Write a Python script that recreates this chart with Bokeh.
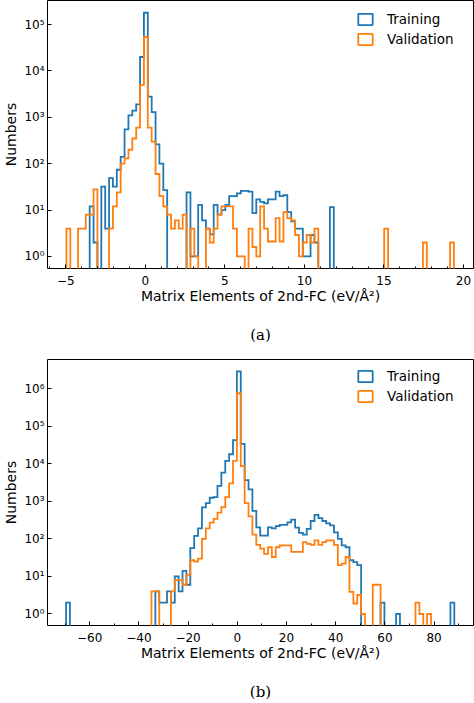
import numpy as np
from bokeh.plotting import figure
from bokeh.layouts import column
from bokeh.models import FixedTicker, Legend, LegendItem, LinearAxis, Range1d
from bokeh.embed import file_html
from bokeh.resources import INLINE

# ---- histogram data: 100 equal-width bins over each range ----
bins_a = (-4.96, 19.40)
train_a = [
    0, 0, 0, 0, 0, 0, 12, 2, 0, 32,
    4, 49, 32, 74, 140, 550, 1100, 1400, 1900, 20000,
    180000, 2800, 1300, 260, 100, 27, 0, 0, 0, 0,
    0, 24, 1, 1, 13, 6, 4, 3, 13, 8,
    10, 13, 20, 20, 23, 26, 26, 25, 8.6, 17,
    15, 14, 17, 17, 25, 20, 21, 9, 5.7, 4,
    4, 1, 1, 2.9, 2, 0, 0, 0, 11.6, 0,
    0, 0, 0, 0, 0, 0, 0, 0, 0, 0,
    0, 0, 0, 0, 0, 0, 0, 0, 0, 0,
    0, 0, 0, 0, 0, 0, 0, 0, 0, 0,
]
valid_a = [
    4, 0, 0, 4, 4, 8, 8, 28, 0, 0,
    0, 4, 12, 24, 100, 130, 200, 350, 600, 5000,
    54000, 600, 300, 60, 20, 12, 8, 4, 6, 4,
    8, 0, 4, 1, 0, 0, 4, 2, 4, 8,
    12, 12, 12, 4, 1, 1, 0, 4, 1.6, 1,
    12, 4, 2.1, 2.1, 6.7, 2.1, 9, 6.7, 6, 2.9,
    1, 2, 2.9, 2, 4, 0, 0, 0, 0, 0,
    0, 0, 0, 0, 0, 0, 0, 0, 0, 0,
    0, 0, 4, 0, 0, 0, 0, 0, 0, 0,
    0, 0, 2, 0, 0, 0, 0, 0, 0, 2,
]

bins_b = (-69.6, 88.2)
train_b = [
    2, 0, 0, 0, 0, 0, 0, 0, 0, 0,
    0, 0, 0, 0, 0, 0, 0, 0, 0, 0,
    0, 0, 0, 4, 2, 2, 4, 2, 10, 4,
    14, 6, 57, 120, 190, 690, 900, 1250, 1300, 2600,
    5800, 12000, 18000, 43000, 2900000, 34000, 3700, 2100, 560, 204,
    123, 123, 204, 190, 220, 236, 236, 277, 325, 200,
    145, 130, 185, 300, 435, 360, 300, 260, 230, 150,
    100, 67, 60, 27, 24, 20, 0, 0, 0, 0,
    0, 2, 0, 0, 0, 1, 0, 0, 0, 0,
    0, 0, 0, 0, 0, 0, 0, 0, 0, 2,
]
valid_b = [
    0, 0, 0, 0, 0, 0, 0, 0, 0, 0,
    0, 0, 0, 0, 0, 0, 0, 0, 0, 0,
    0, 0, 4, 4, 0, 0, 0, 4, 8, 8,
    6, 11, 27, 25, 30, 100, 190, 270, 340, 500,
    700, 1300, 3000, 12000, 760000, 8700, 900, 400, 130, 69,
    55, 40, 60, 33, 60, 67, 67, 67, 45, 45,
    45, 82, 74, 69, 91, 69, 82, 91, 91, 69,
    20, 22, 33, 3.9, 1.9, 3.2, 1, 0, 0, 6,
    6, 0, 0, 0, 0, 0, 0, 0, 0, 0,
    2, 1, 0, 1, 0, 0, 0, 0, 0, 0,
]

xticks_a = [-5, 0, 5, 10, 15, 20]
xticks_b = [-60, -40, -20, 0, 20, 40, 60, 80]
yticks_a = [1, 10, 100, 1000, 10000, 100000]
yticks_b = [1, 10, 100, 1000, 10000, 100000, 1000000]
ytick_text = ["10⁰", "10¹", "10²", "10³", "10⁴", "10⁵", "10⁶"]
series_names = ["Training", "Validation"]

BLUE = "#1f77b4"
ORANGE = "#ff7f0e"
FONT = "DejaVu Sans"
LW = 1.8
FLOOR = 1e-3  # empty bins drop below the visible range


def step_outline(bin_range, counts):
    edges = np.linspace(bin_range[0], bin_range[1], len(counts) + 1)
    c = np.asarray(counts, dtype=float)
    c = np.where(c > 0, c, FLOOR)
    xs = np.repeat(edges, 2)
    ys = np.concatenate([[FLOOR], np.repeat(c, 2), [FLOOR]])
    return xs, ys


def minus(v):
    return str(v).replace("-", "\u2212")


def panel(bin_range, train, valid, xr, yr, xticks, xminor, yticks,
          height, top, bottom, caption, cap_standoff):
    p = figure(width=474, height=height, x_range=Range1d(*xr),
               y_range=Range1d(*yr), y_axis_type="log",
               output_backend="svg", toolbar_location=None,
               min_border_left=44, min_border_right=1,
               min_border_top=top, min_border_bottom=bottom)
    p.grid.visible = False
    p.outline_line_color = "black"
    p.outline_line_width = 1
    p.background_fill_color = "white"
    p.border_fill_color = "white"

    for counts, color in ((train, BLUE), (valid, ORANGE)):
        xs, ys = step_outline(bin_range, counts)
        p.line(xs, ys, line_color=color, line_width=LW, line_join="miter")

    p.xaxis.ticker = FixedTicker(ticks=xticks, minor_ticks=xminor)
    p.xaxis.major_label_overrides = {t: minus(t) for t in xticks}
    p.yaxis.ticker = FixedTicker(ticks=yticks, minor_ticks=[])
    p.yaxis.major_label_overrides = {t: ytick_text[i] for i, t in enumerate(yticks)}

    for ax in (p.xaxis[0], p.yaxis[0]):
        ax.axis_line_color = None
        ax.major_tick_in = 4
        ax.major_tick_out = 0
        ax.minor_tick_in = 2
        ax.minor_tick_out = 0
        ax.major_tick_line_color = "black"
        ax.minor_tick_line_color = "black"
        ax.major_label_text_font = FONT
        ax.major_label_text_font_size = "12px"
        ax.major_label_text_color = "black"
        ax.axis_label_text_font = FONT
        ax.axis_label_text_font_size = "14px"
        ax.axis_label_text_font_style = "normal"
        ax.axis_label_text_color = "black"
    p.xaxis.major_label_standoff = 7
    p.xaxis.axis_label_standoff = 0
    p.yaxis.major_label_standoff = 3
    p.yaxis.axis_label_standoff = 2
    p.xaxis.axis_label = "Matrix Elements of 2nd-FC (eV/Å²)"
    p.yaxis.axis_label = "Numbers"

    # unfilled boxes used only as legend keys
    nan = [float("nan")]
    r_t = p.quad(left=nan, right=nan, top=nan, bottom=nan, fill_alpha=0,
                 line_color=BLUE, line_width=LW)
    r_v = p.quad(left=nan, right=nan, top=nan, bottom=nan, fill_alpha=0,
                 line_color=ORANGE, line_width=LW)
    legend = Legend(items=[LegendItem(label=series_names[0], renderers=[r_t]),
                           LegendItem(label=series_names[1], renderers=[r_v])],
                    location=(309, 219), border_line_color=None,
                    background_fill_alpha=0, padding=0, margin=0, spacing=0,
                    glyph_width=18, glyph_height=14, label_standoff=13,
                    label_height=20, label_text_font=FONT,
                    label_text_font_size="13.5px", label_text_color="black")
    p.add_layout(legend)

    # sub-figure caption: a bare axis (no line, ticks or labels) stacked
    # under the x axis, carrying only its label
    cap = LinearAxis(ticker=FixedTicker(ticks=[], minor_ticks=[]),
                     axis_label=caption, axis_line_color=None,
                     major_tick_out=0, major_tick_in=0,
                     minor_tick_out=0, minor_tick_in=0,
                     major_label_standoff=0, axis_label_standoff=cap_standoff,
                     axis_label_text_font="DejaVu Serif",
                     axis_label_text_font_size="15px",
                     axis_label_text_font_style="normal",
                     axis_label_text_color="black")
    p.add_layout(cap, "below")
    return p


pa = panel(bins_a, train_a, valid_a, (-6.15, 20.63), (10 ** -0.26, 10 ** 5.52),
           xticks_a, [v for v in range(-6, 21) if v not in xticks_a], yticks_a,
           352, 0, 84, "(a)", 19)
pb = panel(bins_b, train_b, valid_b, (-77.14, 96.0), (10 ** -0.307, 10 ** 6.78),
           xticks_b, [v for v in range(-70, 96, 10) if v not in xticks_b], yticks_b,
           351, 7, 76, "(b)", 19)

layout = column(pa, pb, spacing=0)
open("out.html", "w").write(file_html(layout, INLINE))
